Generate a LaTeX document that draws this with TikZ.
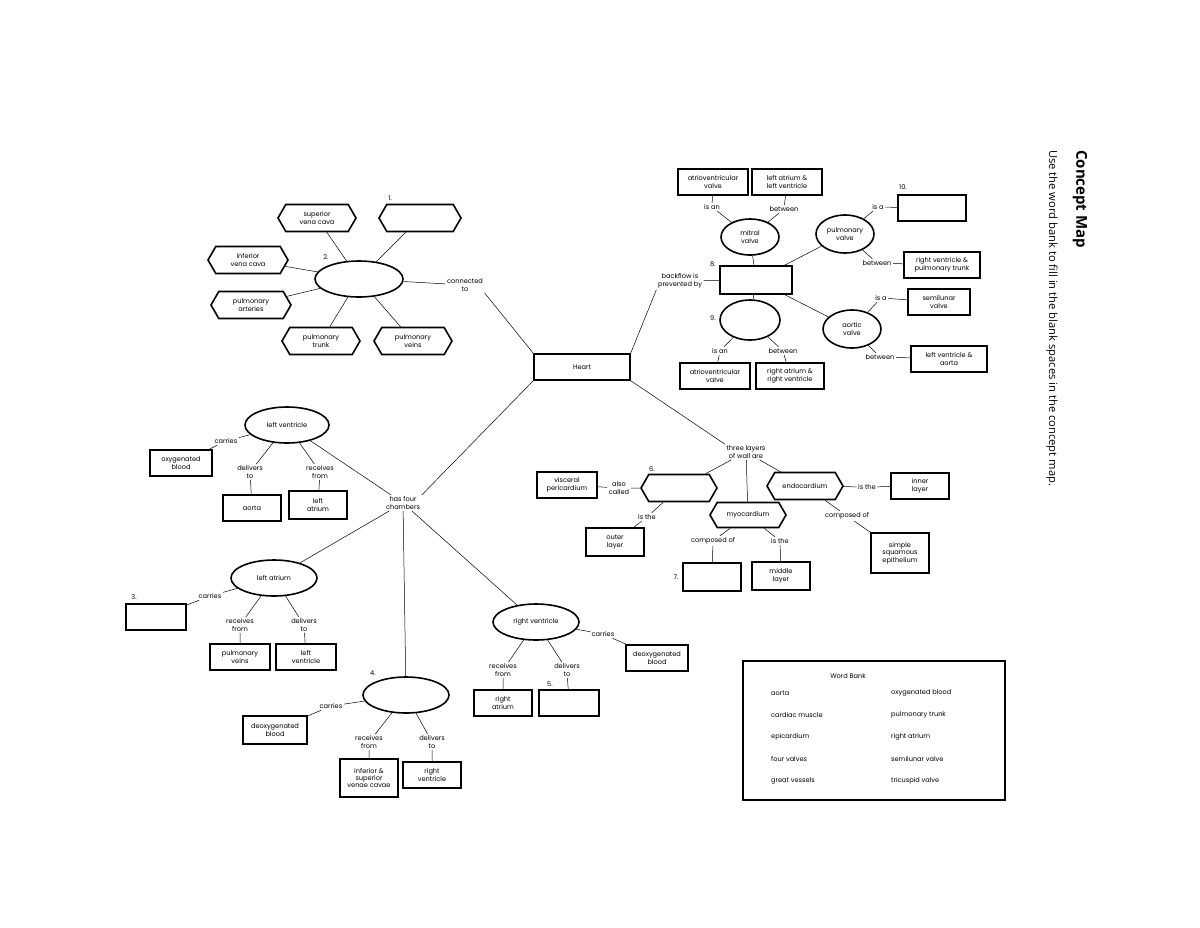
\documentclass[tikz,border=0pt]{standalone}
\usepackage{fontspec}
\setmainfont{Poppins}
\newfontfamily\titlefont{Open Sans}
\usetikzlibrary{shapes.geometric,shapes.symbols}
\begin{document}
\begin{tikzpicture}[x=1pt,y=-1pt,
  every node/.style={font=\fontsize{6.6}{7.4}\selectfont, align=center, inner sep=1pt},
  bx/.style={draw, line width=1.3pt, minimum width=#1, inner sep=1pt},
  bx/.default=60pt,
  el/.style={draw, ellipse, line width=1.6pt, minimum width=#1, minimum height=36pt, inner sep=0pt},
  el/.default=86pt,
  hx/.style={draw, signal, signal to=east and west, signal pointer angle=120, line width=1.6pt, minimum width=#1, minimum height=27pt, inner sep=0pt},
  hx/.default=78pt,
  lb/.style={inner sep=1.5pt},
  ln/.style={line width=0.5pt}]
\useasboundingbox (0,0) rectangle (1200,927);
% ---------- great vessels
\node[el=88pt] (e2) at (359,279) {};
\node[lb] at (326,257) {2.};
\node[hx] (svc) at (317,218) {superior\\vena cava};
\node[hx=82pt] (h1) at (420,218) {};
\node[lb] at (390,198) {1.};
\node[hx=80pt] (ivc) at (248,260) {inferior\\vena cava};
\node[hx=80pt] (pa) at (251,305) {pulmonary\\arteries};
\node[hx] (pt) at (321,341) {pulmonary\\trunk};
\node[hx] (pv) at (413,341) {pulmonary\\veins};
\foreach \n in {svc,h1,ivc,pa,pt,pv} \draw[ln] (e2) -- (\n);
\node[lb] (ct) at (465,285) {connected\\to};
\node[bx=96pt, minimum height=26pt] (heart) at (582,367) {Heart};
\draw[ln] (e2) -- (ct);
\draw[ln] (ct.south east) -- (heart.north west);
% ---------- valves
\node[lb] (bf) at (680,281) {backflow is\\prevented by};
\draw[ln] (heart.north east) -- (bf.south west);
\node[bx=72pt, minimum height=28pt] (b8) at (756,280) {};
\node[lb] at (713,264) {8.};
\draw[ln] (bf) -- (b8);
\node[el=58pt] (mv) at (750,237) {mitral\\valve};
\draw[ln] (b8) -- (mv);
\node[bx=70pt, minimum height=26pt] (av1) at (713,182) {atrioventricular\\valve};
\node[bx=70pt, minimum height=26pt] (lalv) at (787,182) {left atrium \&\\left ventricle};
\node[lb] (isan1) at (712,207) {is an};
\node[lb] (bt1) at (784,209) {between};
\draw[ln] (av1) -- (isan1) -- (mv);
\draw[ln] (lalv) -- (bt1) -- (mv);
\node[el=58pt, minimum height=38pt] (plv) at (845,234) {pulmonary\\valve};
\draw[ln] (b8) -- (plv);
\node[lb] (isa1) at (878,207) {is a};
\node[bx=68pt, minimum height=26pt] (b10) at (932,208) {};
\node[lb] at (903,187) {10.};
\draw[ln] (plv) -- (isa1) -- (b10);
\node[lb] (bt2) at (877,263) {between};
\node[bx=76pt, minimum height=26pt] (rvpt) at (942,265) {right ventricle \&\\pulmonary trunk};
\draw[ln] (plv) -- (bt2) -- (rvpt);
\node[el=60pt, minimum height=40pt] (e9) at (750,320) {};
\node[lb] at (713,318) {9.};
\draw[ln] (b8) -- (e9);
\node[lb] (isan2) at (720,351) {is an};
\node[lb] (bt3) at (783,351) {between};
\node[bx=70pt, minimum height=26pt] (av2) at (715,376) {atrioventricular\\valve};
\node[bx=68pt, minimum height=26pt] (rarv) at (790,376) {right atrium \&\\right ventricle};
\draw[ln] (e9) -- (isan2) -- (av2);
\draw[ln] (e9) -- (bt3) -- (rarv);
\node[el=58pt, minimum height=38pt] (aov) at (852,329) {aortic\\valve};
\draw[ln] (b8) -- (aov);
\node[lb] (isa2) at (881,298) {is a};
\node[bx=62pt, minimum height=26pt] (slv) at (939,302) {semilunar\\valve};
\draw[ln] (aov) -- (isa2) -- (slv);
\node[lb] (bt4) at (880,357) {between};
\node[bx=76pt, minimum height=26pt] (lva) at (949,359) {left ventricle \&\\aorta};
\draw[ln] (aov) -- (bt4) -- (lva);
% ---------- layers
\node[lb] (tl) at (746,452) {three layers\\of wall are};
\draw[ln] (heart.south east) -- (tl.north west);
\node[hx=76pt] (h6) at (679,488) {};
\node[lb] at (652,469) {6.};
\node[hx=76pt, minimum height=25pt] (myo) at (748,515) {myocardium};
\node[hx=76pt] (endo) at (805,486) {endocardium};
\draw[ln] (tl) -- (h6); \draw[ln] (tl) -- (myo); \draw[ln] (tl) -- (endo);
\node[lb] (ac) at (619,488) {also\\called};
\node[bx=60pt, minimum height=26pt] (vp) at (567,485) {visceral\\pericardium};
\draw[ln] (h6) -- (ac) -- (vp);
\node[lb] (ist1) at (647,517) {is the};
\node[bx=58pt, minimum height=28pt] (ol) at (615,542) {outer\\layer};
\draw[ln] (h6) -- (ist1) -- (ol);
\node[lb] (co1) at (713,541) {composed of};
\node[bx=58pt, minimum height=28pt] (b7) at (712,577) {};
\node[lb] at (676,577) {7.};
\draw[ln] (myo) -- (co1) -- (b7);
\node[lb] (ist2) at (780,541) {is the};
\node[bx=58pt, minimum height=28pt] (ml) at (781,576) {middle\\layer};
\draw[ln] (myo) -- (ist2) -- (ml);
\node[lb] (ist3) at (867,487) {is the};
\node[bx=58pt, minimum height=26pt] (il) at (920,486) {inner\\layer};
\draw[ln] (endo) -- (ist3) -- (il);
\node[lb] (co2) at (847,516) {composed of};
\node[bx=58pt, minimum height=40pt] (sse) at (900,553) {simple\\squamous\\epithelium};
\draw[ln] (endo) -- (co2) -- (sse);
% ---------- chambers
\node[lb] (hfc) at (403,503) {has four\\chambers};
\draw[ln] (heart.south west) -- (hfc.north east);
\node[el=84pt] (lv) at (287,425) {left ventricle};
\draw[ln] (hfc) -- (lv);
\node[lb] (car1) at (226,441) {carries};
\node[bx=62pt, minimum height=26pt] (ob) at (181,463) {oxygenated\\blood};
\draw[ln] (lv) -- (car1) -- (ob);
\node[lb] (dt1) at (250,472) {delivers\\to};
\node[bx=58pt, minimum height=26pt] (ao) at (252,508) {aorta};
\draw[ln] (lv) -- (dt1) -- (ao);
\node[lb] (rf1) at (320,472) {receives\\from};
\node[bx=58pt, minimum height=28pt] (la1) at (318,505) {left\\atrium};
\draw[ln] (lv) -- (rf1) -- (la1);
\node[el=86pt] (la) at (274,578) {left atrium};
\draw[ln] (hfc) -- (la);
\node[bx=60pt, minimum height=26pt] (b3) at (156,617) {};
\node[lb] at (134,597) {3.};
\node[lb] (car2) at (210,596) {carries};
\draw[ln] (la) -- (car2) -- (b3);
\node[lb] (rf2) at (240,625) {receives\\from};
\node[bx=60pt, minimum height=26pt] (pvn) at (240,657) {pulmonary\\veins};
\draw[ln] (la) -- (rf2) -- (pvn);
\node[lb] (dt2) at (304,625) {delivers\\to};
\node[bx=60pt, minimum height=26pt] (lv2) at (306,657) {left\\ventricle};
\draw[ln] (la) -- (dt2) -- (lv2);
\node[el=86pt] (e4) at (406,695) {};
\node[lb] at (373,673) {4.};
\draw[ln] (hfc) -- (e4);
\node[lb] (car3) at (331,706) {carries};
\node[bx=64pt, minimum height=28pt] (db1) at (275,730) {deoxygenated\\blood};
\draw[ln] (e4) -- (car3) -- (db1);
\node[lb] (rf3) at (369,742) {receives\\from};
\node[bx=58pt, minimum height=38pt] (isvc) at (369,778) {inferior \&\\superior\\venae cavae};
\draw[ln] (e4) -- (rf3) -- (isvc);
\node[lb] (dt3) at (432,742) {delivers\\to};
\node[bx=58pt, minimum height=26pt] (rv2) at (432,775) {right\\ventricle};
\draw[ln] (e4) -- (dt3) -- (rv2);
\node[el=86pt] (rv) at (536,622) {right ventricle};
\draw[ln] (hfc) -- (rv);
\node[lb] (car4) at (603,634) {carries};
\node[bx=62pt, minimum height=26pt] (db2) at (657,658) {deoxygenated\\blood};
\draw[ln] (rv) -- (car4) -- (db2);
\node[lb] (rf4) at (503,670) {receives\\from};
\node[bx=58pt, minimum height=26pt] (ra) at (503,703) {right\\atrium};
\draw[ln] (rv) -- (rf4) -- (ra);
\node[lb] (dt4) at (567,670) {delivers\\to};
\node[bx=60pt, minimum height=26pt] (b5) at (569,703) {};
\node[lb] at (550,684) {5.};
\draw[ln] (rv) -- (dt4) -- (b5);
% ---------- word bank
\node[draw, line width=1.3pt, minimum width=262pt, minimum height=139pt] (wb) at (874,730.5) {};
\node (wbt) at (848,676) {Word Bank};
\foreach \a/\b [count=\i] in {aorta/oxygenated blood, cardiac muscle/pulmonary trunk, epicardium/right atrium, four valves/semilunar valve, great vessels/tricuspid valve}{
  \node[anchor=west] at (770,671+22*\i) {\a};
  \node[anchor=west] at (890,671+22*\i) {\b};
}
% ---------- title
\node[rotate=-90, anchor=west, font=\titlefont\bfseries\fontsize{15}{16}\selectfont, inner sep=0pt] (title) at (1080,150) {Concept Map};
\node[rotate=-90, anchor=west, font=\titlefont\fontsize{11.2}{12}\selectfont, inner sep=0pt] (sub) at (1052,150) {Use the word bank to fill in the blank spaces in the concept map.};
\end{tikzpicture}
\end{document}
